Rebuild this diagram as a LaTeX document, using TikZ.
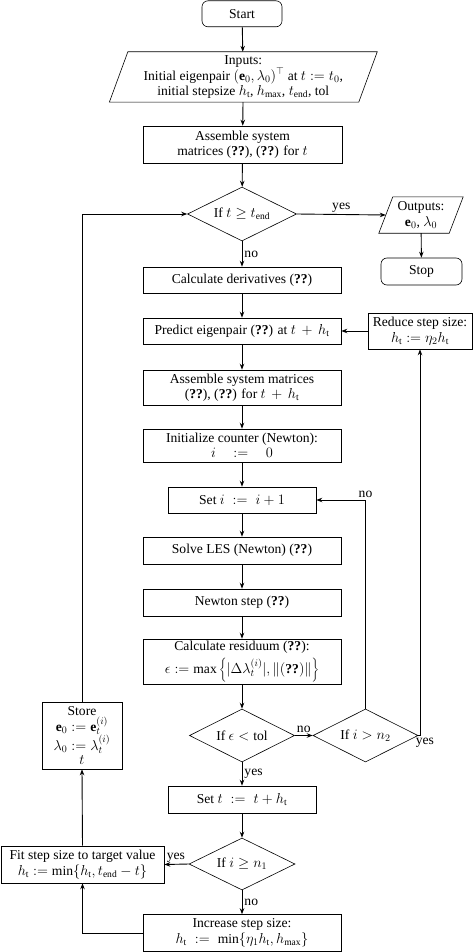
\documentclass[tikz,border=0pt,12pt]{standalone}
\usepackage{fontspec}
\setmainfont{Liberation Serif}
\usetikzlibrary{shapes.geometric,arrows.meta}
\tikzset{
  txt/.style={font=\fontsize{13.6}{15.5}\selectfont, align=center, inner sep=1pt},
  box/.style={txt, draw, rectangle, line width=0.6pt},
  term/.style={box, rounded corners=6pt},
  dia/.style={txt, draw, diamond, aspect=2, inner sep=0pt, line width=0.6pt},
  para/.style={txt},
  paraline/.style={line width=0.6pt},
  arr/.style={-{Stealth[length=6pt,width=4.5pt]}, line width=0.9pt},
  lbl/.style={txt, inner sep=2pt}
}
\begin{document}
\begin{tikzpicture}[x=1pt,y=-1pt]
\useasboundingbox (0,0) rectangle (474,952);
% nodes
\node[term, minimum width=80pt, minimum height=26pt] (start) at (242,13.8) {Start};
\node[para, minimum width=249pt, minimum height=50pt] (inputs) at (243.3,77) {Inputs:\\Initial eigenpair $(\mathbf{e}_0,\lambda_0)^\top$ at $t:=t_0$,\\initial stepsize $h_\mathrm{t}$, $h_\mathrm{max}$, $t_\mathrm{end}$, $\mathrm{tol}$};
\draw[paraline] ([xshift=-9.25pt]inputs.south west) -- ([xshift=-9.25pt]inputs.south east) -- ([xshift=9.25pt]inputs.north east) -- ([xshift=9.25pt]inputs.north west) -- cycle;
\node[box, minimum width=199pt, minimum height=37pt] (asm1) at (242.5,144.5) {Assemble system\\matrices (\textbf{??}), (\textbf{??}) for $t$};
\node[dia, minimum width=109pt, minimum height=54pt] (d1) at (242,214) {If $t\geq t_\mathrm{end}$};
\node[para, minimum width=70pt, minimum height=36pt] (outputs) at (421,215) {Outputs:\\$\mathbf{e}_0$, $\lambda_0$};
\draw[paraline] ([xshift=-7pt]outputs.south west) -- ([xshift=-7pt]outputs.south east) -- ([xshift=7pt]outputs.north east) -- ([xshift=7pt]outputs.north west) -- cycle;
\node[term, minimum width=81pt, minimum height=27pt] (stop) at (421.5,271.5) {Stop};
\node[box, minimum width=198pt, minimum height=26pt] (calc) at (242,280) {Calculate derivatives (\textbf{??})};
\node[box, minimum width=198pt, minimum height=26pt] (pred) at (242,331) {Predict eigenpair (\textbf{??}) at $t\,+\,h_\mathrm{t}$};
\node[box, minimum width=104pt, minimum height=36pt] (reduce) at (420,331) {Reduce step size:\\$h_\mathrm{t}:=\eta_2h_\mathrm{t}$};
\node[box, minimum width=198pt, minimum height=35pt] (asm2) at (242,387.5) {Assemble system matrices\\(\textbf{??}), (\textbf{??}) for $t\,+\,h_\mathrm{t}$};
\node[box, minimum width=198pt, minimum height=33pt] (init) at (242,445.5) {Initialize counter (Newton):\\$i\quad:=\quad0$};
\node[box, minimum width=148pt, minimum height=26pt] (seti) at (242,500) {Set $i\;:=\;i+1$};
\node[box, minimum width=198pt, minimum height=27pt] (solve) at (242,550.5) {Solve LES (Newton) (\textbf{??})};
\node[box, minimum width=198pt, minimum height=27pt] (newton) at (242,602.5) {Newton step (\textbf{??})};
\node[box, minimum width=198pt, minimum height=45pt, inner sep=0pt] (resid) at (242,661.5) {Calculate residuum (\textbf{??}):\\[4pt]$\epsilon:=\max\left\{|\Delta\lambda_t^{(i)}|,\|(\textbf{??})\|\right\}$};
\node[dia, minimum width=105pt, minimum height=53pt] (d2) at (242,735.5) {If $\epsilon<\mathrm{tol}$};
\node[dia, minimum width=105pt, minimum height=53pt] (d3) at (365.5,735.5) {If $i>n_2$};
\node[box, minimum width=80pt, minimum height=67pt, font=\fontsize{13.6}{14}\selectfont] (store) at (82,735.5) {Store\\$\mathbf{e}_0:=\mathbf{e}_t^{(i)}$\\$\lambda_0:=\lambda_t^{(i)}$\\$t$};
\node[box, minimum width=148pt, minimum height=27pt] (sett) at (242,799.5) {Set $t\;:=\;t+h_\mathrm{t}$};
\node[dia, minimum width=106pt, minimum height=52pt] (d4) at (242,864) {If $i\geq n_1$};
\node[box, minimum width=163pt, minimum height=37pt] (fit) at (82.5,864.5) {Fit step size to target value\\$h_\mathrm{t}:=\min\{h_\mathrm{t},t_\mathrm{end}-t\}$};
\node[box, minimum width=198pt, minimum height=37pt] (incr) at (242,933) {Increase step size:\\$h_\mathrm{t}\;:=\;\min\{\eta_1h_\mathrm{t},h_\mathrm{max}\}$};
% connectors
\draw[arr] (start) -- (inputs);
\draw[arr] (inputs) -- (asm1);
\draw[arr] (asm1) -- (d1);
\draw[arr] (d1.east) -- node[lbl, above] {yes} (outputs.west);
\draw[arr] (outputs) -- (stop);
\draw[arr] (d1.south) -- node[lbl, right] {no} (calc.north);
\draw[arr] (calc) -- (pred);
\draw[arr] (pred) -- (asm2);
\draw[arr] (asm2) -- (init);
\draw[arr] (init) -- (seti);
\draw[arr] (seti) -- (solve);
\draw[arr] (solve) -- (newton);
\draw[arr] (newton) -- (resid);
\draw[arr] (resid) -- (d2.north);
\draw[arr] (d2.east) -- node[lbl, above] {no} (d3.west);
\draw[arr] (d3.north) |- node[lbl, above, pos=0.5] {no} (seti.east);
\draw[arr] (d3.east) node[lbl, anchor=north west, xshift=-5pt] {yes} -| (reduce.south);
\draw[arr] (reduce.west) -- (pred.east);
\draw[arr] (d2.south) -- node[lbl, right] {yes} (sett.north);
\draw[arr] (sett) -- (d4.north);
\draw[arr] (d4.west) -- node[lbl, above right, pos=1] {yes} (fit.east);
\draw[arr] (d4.south) -- node[lbl, right] {no} (incr.north);
\draw[arr] (incr.west) -| (fit.south);
\draw[arr] (fit.north) -- (store.south);
\draw[arr] (store.north) |- (d1.west);
\end{tikzpicture}
\end{document}
